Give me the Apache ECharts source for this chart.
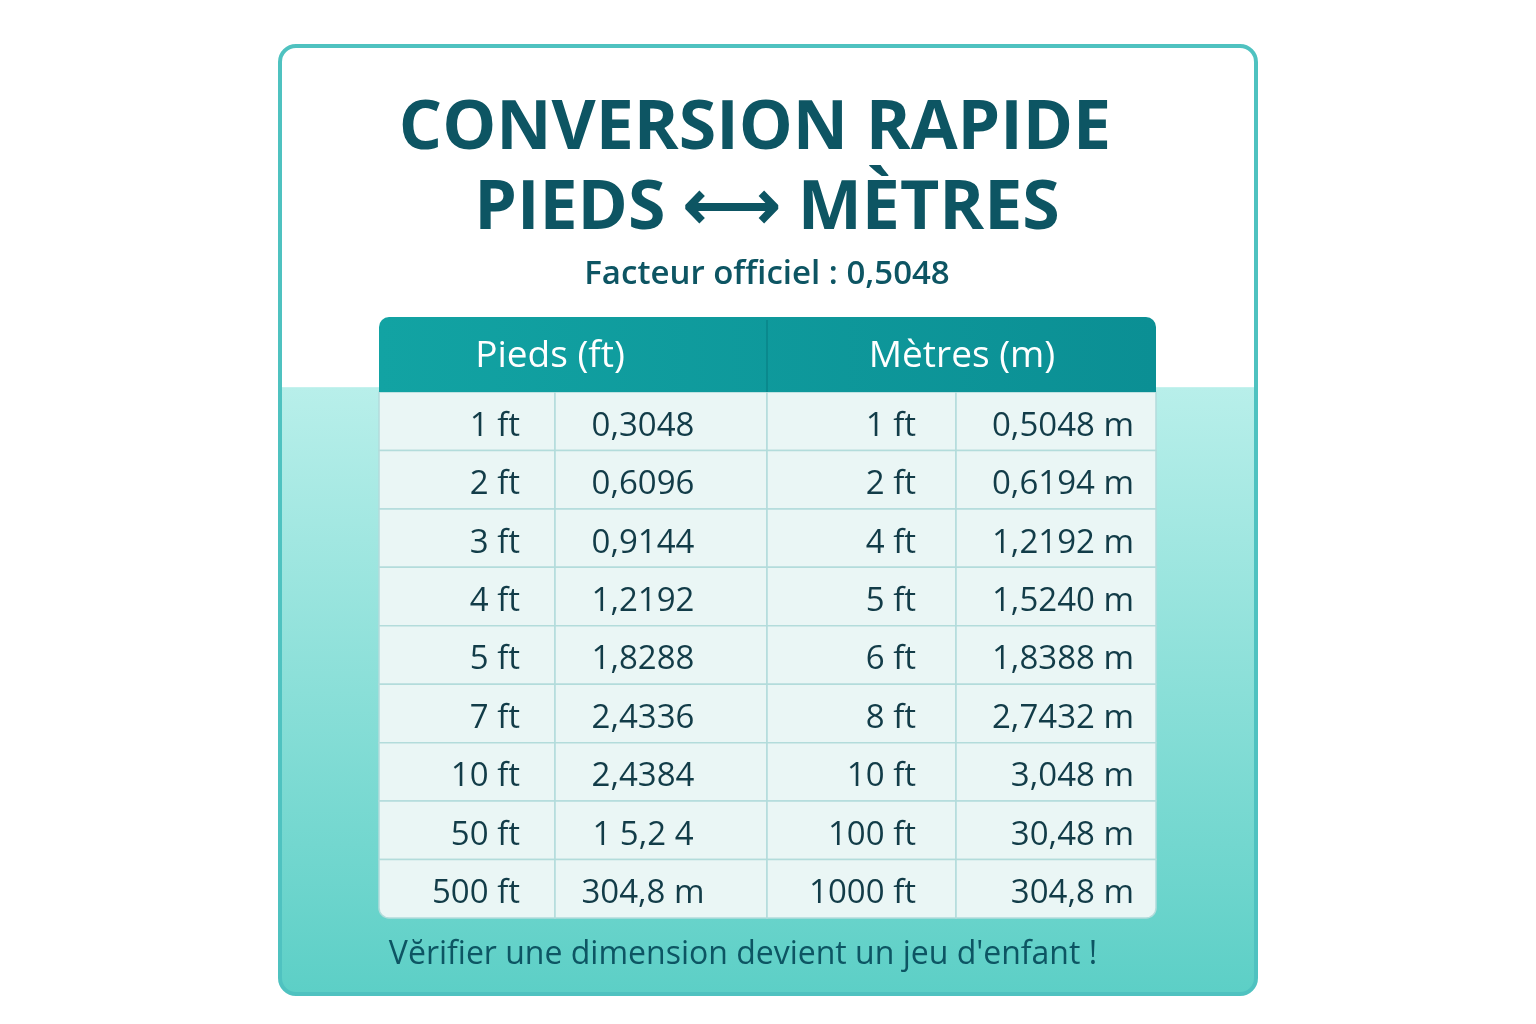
<!DOCTYPE html>
<html><head><meta charset="utf-8">
<script src="https://cdn.jsdelivr.net/npm/echarts@6/dist/echarts.min.js"></script>
<style>html,body{margin:0;background:#fff}#c{width:1536px;height:1024px}</style></head>
<body><div id="c"></div>
<script>
const headers = ['Pieds (ft)', 'Mètres (m)'];
const leftFeet = ['1 ft','2 ft','3 ft','4 ft','5 ft','7 ft','10 ft','50 ft','500 ft'];
const leftMeters = ['0,3048','0,6096','0,9144','1,2192','1,8288','2,4336','2,4384','1 5,2 4','304,8 m'];
const rightFeet = ['1 ft','2 ft','4 ft','5 ft','6 ft','8 ft','10 ft','100 ft','1000 ft'];
const rightMeters = ['0,5048 m','0,6194 m','1,2192 m','1,5240 m','1,8388 m','2,7432 m','3,048 m','30,48 m','304,8 m'];
const colEdges = [0, 176, 388, 577, 777];
const columns = [leftFeet, leftMeters, rightFeet, rightMeters];

const cells = [];
columns.forEach((col, c) => col.forEach((t, r) => cells.push([c, r, t])));

const chart = echarts.init(document.getElementById('c'));
const F = '"Open Sans", "Noto Sans", sans-serif';
const dark = '#0d5563';
chart.setOption({
  animation: false,
  graphic: [
    {type:'rect', shape:{x:280,y:46,width:976,height:948,r:16}, style:{fill:{type:'linear',x:0,y:0,x2:0,y2:1,colorStops:[{offset:0,color:'#ffffff'},{offset:0.36,color:'#ffffff'},{offset:0.361,color:'#b8efea'},{offset:1,color:'#5ccfc6'}]}, stroke:'#4fc2c0', lineWidth:4}, z:-10},
    {type:'rect', shape:{x:379,y:317,width:777,height:75,r:[10,10,0,0]}, style:{fill:{type:'linear',x:0,y:0,x2:1,y2:0,colorStops:[{offset:0,color:'#12a3a3'},{offset:1,color:'#0b8f94'}]}}, z:5},
    {type:'line', shape:{x1:767,y1:320,x2:767,y2:392}, style:{stroke:'#0a8489',lineWidth:1.5}, z:6},
    {type:'text', x:550, y:356, style:{text:headers[0], font:'500 37px '+F, fill:'#ffffff', align:'center', verticalAlign:'middle'}, z:7},
    {type:'text', x:962, y:356, style:{text:headers[1], font:'500 37px '+F, fill:'#ffffff', align:'center', verticalAlign:'middle'}, z:7},
    {type:'text', x:755, y:130, style:{text:'CONVERSION RAPIDE', font:'bold 68px '+F, fill:dark, align:'center', verticalAlign:'middle'}},
    {type:'text', x:767, y:210, style:{text:'PIEDS ⟷ MÈTRES', font:'bold 68px '+F, fill:dark, align:'center', verticalAlign:'middle'}},
    {type:'text', x:767, y:275, style:{text:'Facteur officiel : 0,5048', font:'600 33px '+F, fill:dark, align:'center', verticalAlign:'middle'}},
    {type:'text', x:743, y:955, style:{text:"Vĕrifier une dimension devient un jeu d'enfant !", font:'500 32px '+F, fill:dark, align:'center', verticalAlign:'middle'}}
  ],
  grid: {left:379, top:392, width:777, height:526},
  xAxis: {type:'value', min:0, max:777, show:false},
  yAxis: {type:'category', data:leftFeet.map((_, i)=>i), inverse:true, show:false},
  series: [{
    type:'custom',
    data: cells,
    renderItem: (params, api) => {
      const c = api.value(0), r = api.value(1);
      const t = cells[params.dataIndex][2];
      const x0 = api.coord([colEdges[c], r])[0], x1 = api.coord([colEdges[c+1], r])[0];
      const cy = api.coord([0, r])[1], h = api.size([0, 1])[1];
      let tx, align;
      if (c === 0) { tx = x1 - 35; align = 'right'; }
      else if (c === 1) { tx = (x0 + x1) / 2 - 18; align = 'center'; }
      else if (c === 2) { tx = x1 - 40; align = 'right'; }
      else { tx = x1 - 22; align = 'right'; }
      const last = r === leftFeet.length - 1;
      return {type:'group', children:[
        {type:'rect', shape:{x:x0, y:cy-h/2, width:x1-x0, height:h, r: last && c===0 ? [0,0,0,10] : last && c===3 ? [0,0,10,0] : 0},
         style:{fill:'#eaf6f5', stroke:'#b3dcdb', lineWidth:1.5}},
        {type:'text', style:{x:tx, y:cy+5, text:t, font:'33px '+F, fill:'#123c48', align:align, verticalAlign:'middle'}}
      ]};
    }
  }]
});
</script></body></html>
